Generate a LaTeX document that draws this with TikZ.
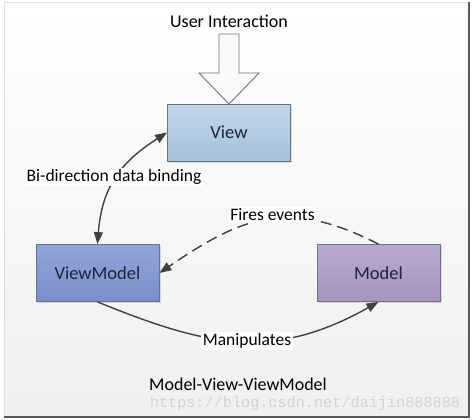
\documentclass[tikz,border=0pt]{standalone}
\usepackage{fontspec}
\setmainfont{Carlito}
\newfontfamily\wmfont{Liberation Mono}
\usetikzlibrary{arrows.meta,shadows}
\definecolor{txt}{HTML}{1C2438}
\definecolor{arrc}{HTML}{404040}
\definecolor{vtop}{HTML}{C2D6EB}
\definecolor{vbot}{HTML}{A6C1DC}
\definecolor{vmtop}{HTML}{92A4D9}
\definecolor{vmbot}{HTML}{7C8ECA}
\definecolor{mtop}{HTML}{BAAAD0}
\definecolor{mbot}{HTML}{A693BE}
\definecolor{bordc}{HTML}{66768A}
\tikzset{
  box/.style={draw=bordc, line width=0.8pt, minimum width=123pt, minimum height=57pt,
    inner sep=0pt, text=txt, font=\fontsize{18.5}{21}\selectfont,
    drop shadow={shadow xshift=1.5pt, shadow yshift=-1.5pt, opacity=0.25}},
  lbl/.style={fill=white, inner sep=1.5pt, text=black, font=\fontsize{17.5}{20}\selectfont},
  conn/.style={draw=arrc, line width=1.4pt, -{Triangle[length=12pt,width=9pt]}},
  conn2/.style={draw=arrc, line width=1.4pt, {Triangle[length=12pt,width=9pt]}-{Triangle[length=12pt,width=9pt]}},
  plain/.style={text=black, inner sep=0pt, font=\fontsize{18}{21}\selectfont}
}
\begin{document}
\begin{tikzpicture}[x=1pt,y=-1pt]
\useasboundingbox (0,0) rectangle (474,420);
\fill[white] (0,0) rectangle (474,420);
\shade[top color=white, bottom color=black!6] (4,2) rectangle (469,417);
\draw[black!12, line width=0.6pt] (4,417) -- (4,2) -- (469,2);
\draw[black!65, line width=1.6pt] (469,2) -- (469,417) -- (4,417);

% hollow arrow
\draw[fill=black!2, draw=black!55, line width=0.9pt, line join=miter]
  (219,34) -- (239,34) -- (239,73) -- (259,73) -- (229,104) -- (199,73) -- (219,73) -- cycle;
\node[plain] (ui) at (229,21) {User Interaction};

\node[box, top color=vtop, bottom color=vbot] (view) at (229,132.5) {View};
\node[box, top color=vmtop, bottom color=vmbot] (vm) at (97.5,273) {ViewModel};
\node[box, top color=mtop, bottom color=mbot] (model) at (378.5,273) {Model};

\draw[conn2] (vm.north) .. controls (102,184) and (124,160) .. (view.west);
\node[lbl] (bi) at (114,177) {Bi-direction data binding};

\draw[conn, dash pattern=on 11pt off 6pt] (model.north) .. controls (288,198) and (243,216) .. (vm.east);
\node[lbl] (fe) at (272.5,215) {Fires events};

\draw[conn] (vm.south) .. controls (208,347) and (273,361) .. (model.south);
\node[lbl] (man) at (247,341) {Manipulates};

\node[plain] (title) at (238,384) {Model-View-ViewModel};
\node[text=black!17, inner sep=0pt, font=\wmfont\fontsize{15.2}{17}\selectfont] (wm) at (305,404) {https://blog.csdn.net/daijin888888};
\end{tikzpicture}
\end{document}
